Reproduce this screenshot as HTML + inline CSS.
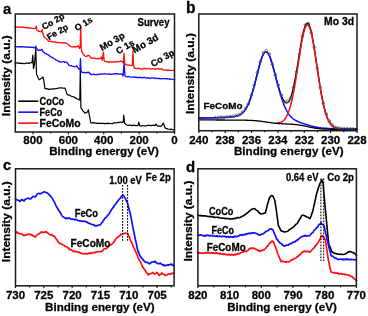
<!DOCTYPE html>
<html><head><meta charset="utf-8"><style>html,body{margin:0;padding:0;background:#fff;width:368px;height:316px;overflow:hidden}</style></head>
<body><svg width="368" height="316" viewBox="0 0 368 316" style="display:block;will-change:transform" font-family='"Liberation Sans", sans-serif'><polyline points="15.00,62.90 15.90,62.86 16.80,62.82 17.70,63.25 18.60,62.92 19.50,63.33 20.40,63.29 21.30,63.15 22.20,63.55 23.10,63.30 24.00,63.70 25.00,63.54 26.00,63.17 27.00,63.08 28.00,63.20 29.00,63.37 30.00,62.76 31.00,62.72 32.00,62.80 32.80,55.20 33.50,68.50 34.50,64.00 35.80,48.50 36.50,74.20 37.40,76.16 38.30,78.25 39.20,79.80 40.13,79.25 41.07,78.53 42.00,78.00 43.00,77.00 44.00,82.00 44.90,88.40 45.92,88.95 46.94,88.52 47.96,89.31 48.98,89.13 50.00,89.50 50.91,89.11 51.82,88.96 52.73,88.96 53.64,89.18 54.55,88.59 55.45,88.74 56.36,88.64 57.27,88.32 58.18,88.31 59.09,87.83 60.00,88.00 61.00,87.73 62.00,87.87 63.00,88.25 64.00,88.11 65.00,88.20 66.05,91.17 67.10,94.40 68.08,94.84 69.07,95.13 70.05,95.41 71.03,96.14 72.02,96.46 73.00,96.70 73.96,96.98 74.92,97.67 75.88,98.10 76.84,98.80 77.80,99.00 78.80,99.66 79.80,100.00 80.30,69.00 80.90,107.00 81.30,108.60 82.20,109.63 83.10,111.29 84.00,111.86 84.90,113.30 86.20,112.59 87.50,112.00 88.40,109.80 89.30,115.00 90.80,122.80 91.72,123.03 92.64,122.66 93.56,122.94 94.48,122.68 95.40,123.17 96.32,123.29 97.24,123.20 98.16,123.46 99.08,123.12 100.00,123.30 100.91,123.45 101.82,123.40 102.73,123.41 103.64,123.34 104.55,123.63 105.45,123.72 106.36,123.41 107.27,123.56 108.18,123.16 109.09,123.62 110.00,123.50 111.00,123.49 112.00,123.61 113.00,123.38 114.00,122.88 115.00,122.84 116.00,122.80 116.93,122.85 117.86,122.32 118.79,122.56 119.71,122.28 120.64,122.17 121.57,122.06 122.50,122.30 123.30,121.80 123.80,115.10 124.50,123.00 125.80,124.20 127.00,124.99 128.20,125.40 129.18,125.14 130.16,125.22 131.14,125.32 132.12,125.66 133.10,125.11 134.08,125.36 135.06,125.43 136.04,125.67 137.02,125.62 138.00,125.40 138.80,122.10 139.60,125.50 140.50,125.90 141.42,126.12 142.34,125.68 143.26,125.75 144.18,125.68 145.09,126.01 146.01,126.03 146.93,125.44 147.85,125.42 148.77,125.43 149.69,125.40 150.61,125.55 151.52,125.59 152.44,125.33 153.36,125.12 154.28,125.37 155.20,125.40 156.00,124.20 157.60,126.20 158.62,126.03 159.65,126.10 160.67,126.29 161.70,125.90 163.30,123.00 165.00,127.80 166.07,128.37 167.13,128.68 168.20,129.10 169.22,129.28 170.25,129.42 171.28,129.09 172.30,129.50 173.40,129.88 174.50,129.70" fill="none" stroke="#000" stroke-width="1.2" stroke-linejoin="round" stroke-linecap="round"/>
<polyline points="15.00,46.50 15.91,46.76 16.82,46.89 17.73,46.90 18.64,46.68 19.55,46.75 20.45,46.60 21.36,47.04 22.27,46.70 23.18,46.77 24.09,46.93 25.00,47.20 25.99,47.01 26.98,47.19 27.97,47.04 28.96,47.05 29.95,47.21 30.94,47.22 31.93,47.45 32.92,47.27 33.91,47.91 34.90,47.70 35.80,46.20 36.50,48.50 38.20,50.40 39.13,50.35 40.07,49.89 41.00,50.00 42.00,49.20 42.80,51.50 43.85,52.23 44.90,53.30 45.85,53.67 46.80,54.15 47.75,54.46 48.70,55.20 49.72,56.10 50.74,56.87 51.76,57.16 52.78,57.83 53.80,58.50 54.90,59.01 56.00,60.10 57.10,60.35 58.20,61.06 59.30,61.70 60.20,61.60 61.10,62.06 62.00,61.90 62.92,61.70 63.84,61.65 64.76,62.34 65.68,62.08 66.60,62.10 67.80,63.50 69.00,65.40 70.00,65.70 71.00,65.60 72.00,66.20 73.20,66.35 74.40,66.80 75.60,66.60 76.80,65.80 77.80,67.70 78.80,69.10 80.00,69.30 80.45,58.60 81.00,70.50 82.00,72.30 83.00,72.56 84.00,72.38 85.00,72.58 86.00,72.80 86.90,72.33 87.80,72.52 88.70,72.10 89.80,73.32 90.90,74.50 91.81,74.67 92.72,74.32 93.63,74.22 94.54,74.60 95.45,74.69 96.36,74.57 97.27,74.50 98.18,74.48 99.09,74.40 100.00,74.20 100.91,73.99 101.82,74.18 102.73,74.04 103.64,73.80 104.55,73.78 105.45,73.94 106.36,73.90 107.27,74.19 108.18,74.36 109.09,73.98 110.00,74.00 110.92,74.30 111.83,74.33 112.75,74.30 113.66,73.87 114.58,73.77 115.49,73.76 116.41,73.73 117.32,73.73 118.24,74.02 119.15,74.20 120.07,74.15 120.98,73.89 121.90,73.90 123.00,76.00 124.10,63.30 124.90,75.50 126.00,76.60 126.93,76.77 127.87,76.93 128.80,76.49 129.73,76.95 130.67,77.19 131.60,77.16 132.53,77.20 133.47,77.06 134.40,76.91 135.33,77.40 136.27,77.14 137.20,77.53 138.13,77.71 139.07,77.37 140.00,77.50 140.91,77.48 141.82,77.90 142.73,77.79 143.64,77.45 144.55,77.47 145.45,77.53 146.36,78.10 147.27,78.08 148.18,77.66 149.09,78.18 150.00,78.34 150.91,78.16 151.82,77.99 152.73,78.17 153.64,77.92 154.55,77.89 155.45,78.60 156.36,78.42 157.27,78.38 158.18,78.71 159.09,78.41 160.00,78.50 160.91,78.82 161.81,78.84 162.72,78.47 163.62,78.55 164.53,78.64 165.44,78.66 166.34,78.95 167.25,78.78 168.16,78.95 169.06,78.80 169.97,79.41 170.88,79.07 171.78,79.20 172.69,79.35 173.59,79.63 174.50,79.40" fill="none" stroke="#1010ff" stroke-width="1.35" stroke-linejoin="round" stroke-linecap="round"/>
<polyline points="15.00,26.80 16.00,26.82 17.00,27.25 18.00,27.04 19.00,27.14 20.00,27.20 21.00,27.30 22.00,27.02 23.00,27.40 24.00,27.30 25.00,27.60 26.00,27.33 27.00,27.97 28.00,27.61 29.00,27.90 30.00,28.00 31.00,28.33 32.00,28.39 33.00,28.40 34.00,28.70 35.50,28.30 36.30,26.20 36.90,30.50 38.00,31.00 39.17,31.28 40.33,31.57 41.50,31.80 42.30,29.50 43.00,34.00 44.00,36.70 45.00,37.80 46.00,38.50 47.00,39.19 48.00,40.48 49.00,41.40 50.00,41.32 51.00,41.44 52.00,41.89 53.00,41.81 54.00,41.94 55.00,42.00 56.00,42.30 57.00,42.53 58.00,42.32 59.00,42.56 60.00,42.60 61.00,42.68 62.00,42.77 63.00,42.97 64.00,42.89 65.00,43.00 66.00,43.27 67.00,43.50 68.00,44.23 69.00,45.00 70.00,46.16 71.00,46.70 72.00,46.81 73.00,46.90 74.00,46.60 75.00,46.98 76.00,46.57 77.00,46.80 78.30,45.80 79.50,48.50 80.20,47.00 80.70,26.80 81.20,47.00 81.80,51.80 82.90,53.44 84.00,55.00 85.00,56.01 86.00,56.40 86.90,56.30 87.80,55.48 88.70,55.40 89.60,56.07 90.50,57.23 91.40,58.20 92.37,57.96 93.33,58.13 94.30,58.07 95.27,58.54 96.23,58.68 97.20,58.81 98.17,58.35 99.13,58.80 100.10,58.70 101.20,57.00 102.30,60.30 103.40,52.20 104.20,60.50 105.00,61.40 105.90,61.71 106.80,61.55 107.70,62.00 108.61,62.24 109.53,62.28 110.44,61.73 111.35,62.22 112.26,61.80 113.17,61.84 114.09,62.17 115.00,61.80 115.99,61.98 116.97,61.45 117.96,61.58 118.94,61.58 119.93,61.40 120.91,61.24 121.90,61.40 123.30,63.00 124.00,53.30 124.70,63.50 126.00,64.90 126.90,64.89 127.80,65.29 128.70,64.91 129.60,65.40 130.50,65.44 131.40,65.60 132.40,65.00 132.90,50.90 133.50,65.50 134.50,68.40 135.42,68.10 136.33,68.35 137.25,68.59 138.17,68.54 139.08,68.26 140.00,68.60 140.91,68.96 141.82,68.84 142.73,68.98 143.64,68.40 144.55,68.53 145.45,68.39 146.36,68.92 147.27,68.58 148.18,68.50 149.09,68.73 150.00,68.80 150.92,69.10 151.83,69.06 152.75,68.68 153.67,68.62 154.58,69.18 155.50,68.95 156.42,69.06 157.33,68.65 158.25,68.64 159.17,69.10 160.08,68.93 161.00,69.00 161.94,68.94 162.88,69.79 163.82,69.81 164.76,70.17 165.70,70.20 166.77,69.96 167.85,70.55 168.93,70.05 170.00,70.40 170.90,70.67 171.80,70.41 172.70,70.35 173.60,70.52 174.50,70.50" fill="none" stroke="#ff1010" stroke-width="1.35" stroke-linejoin="round" stroke-linecap="round"/>
<rect x="15.3" y="14.0" width="159.2" height="118.0" fill="none" stroke="#1a1a1a" stroke-width="1.5"/>
<line x1="32.99" y1="132.0" x2="32.99" y2="134.2" stroke="#1a1a1a" stroke-width="1.2"/>
<line x1="68.37" y1="132.0" x2="68.37" y2="134.2" stroke="#1a1a1a" stroke-width="1.2"/>
<line x1="103.74" y1="132.0" x2="103.74" y2="134.2" stroke="#1a1a1a" stroke-width="1.2"/>
<line x1="139.12" y1="132.0" x2="139.12" y2="134.2" stroke="#1a1a1a" stroke-width="1.2"/>
<line x1="174.50" y1="132.0" x2="174.50" y2="134.2" stroke="#1a1a1a" stroke-width="1.2"/>
<line x1="50.68" y1="132.0" x2="50.68" y2="133.6" stroke="#1a1a1a" stroke-width="1.2"/>
<line x1="86.06" y1="132.0" x2="86.06" y2="133.6" stroke="#1a1a1a" stroke-width="1.2"/>
<line x1="121.43" y1="132.0" x2="121.43" y2="133.6" stroke="#1a1a1a" stroke-width="1.2"/>
<line x1="156.81" y1="132.0" x2="156.81" y2="133.6" stroke="#1a1a1a" stroke-width="1.2"/>
<text x="32.99" y="144.3" font-size="11.1" font-weight="bold" text-anchor="middle" fill="#000" stroke="#000" stroke-width="0.28" textLength="19.200000000000003" lengthAdjust="spacingAndGlyphs">800</text>
<text x="68.37" y="144.3" font-size="11.1" font-weight="bold" text-anchor="middle" fill="#000" stroke="#000" stroke-width="0.28" textLength="19.200000000000003" lengthAdjust="spacingAndGlyphs">600</text>
<text x="103.74" y="144.3" font-size="11.1" font-weight="bold" text-anchor="middle" fill="#000" stroke="#000" stroke-width="0.28" textLength="19.200000000000003" lengthAdjust="spacingAndGlyphs">400</text>
<text x="139.12" y="144.3" font-size="11.1" font-weight="bold" text-anchor="middle" fill="#000" stroke="#000" stroke-width="0.28" textLength="19.200000000000003" lengthAdjust="spacingAndGlyphs">200</text>
<text x="174.50" y="144.3" font-size="11.1" font-weight="bold" text-anchor="middle" fill="#000" stroke="#000" stroke-width="0.28" textLength="6.4" lengthAdjust="spacingAndGlyphs">0</text>
<text x="104" y="154.9" font-size="11.6" font-weight="bold" text-anchor="middle" fill="#000" stroke="#000" stroke-width="0.28" textLength="109.5" lengthAdjust="spacingAndGlyphs">Binding energy (eV)</text>
<text x="3.1" y="14.2" font-size="14.8" font-weight="bold" text-anchor="start" fill="#000" stroke="#000" stroke-width="0.28">a</text>
<text x="10.4" y="75.7" font-size="11" font-weight="bold" text-anchor="middle" fill="#000" stroke="#000" stroke-width="0.28" textLength="81" lengthAdjust="spacingAndGlyphs" transform="rotate(-90 10.4 75.7)">Intensity (a.u.)</text>
<text x="169.5" y="25.7" font-size="10.0" font-weight="bold" text-anchor="end" fill="#000" stroke="#000" stroke-width="0.28" textLength="32" lengthAdjust="spacingAndGlyphs">Survey</text>
<line x1="18.3" y1="101.2" x2="38.2" y2="101.2" stroke="#000" stroke-width="1.6"/>
<text x="39.6" y="104.8" font-size="10.2" font-weight="bold" text-anchor="start" fill="#000" stroke="#000" stroke-width="0.28" textLength="24.6" lengthAdjust="spacingAndGlyphs">CoCo</text>
<line x1="18.3" y1="112.15" x2="38.2" y2="112.15" stroke="#1010ff" stroke-width="1.6"/>
<text x="39.6" y="115.75" font-size="10.2" font-weight="bold" text-anchor="start" fill="#000" stroke="#000" stroke-width="0.28" textLength="22.6" lengthAdjust="spacingAndGlyphs">FeCo</text>
<line x1="18.3" y1="123.1" x2="38.2" y2="123.1" stroke="#ff1010" stroke-width="1.6"/>
<text x="39.6" y="126.69999999999999" font-size="10.2" font-weight="bold" text-anchor="start" fill="#000" stroke="#000" stroke-width="0.28" textLength="41" lengthAdjust="spacingAndGlyphs">FeCoMo</text>
<text x="43.9" y="30.1" font-size="8.8" font-weight="bold" text-anchor="start" fill="#000" stroke="#000" stroke-width="0.28" transform="rotate(-30 43.9 30.1)">Co 2p</text>
<text x="48.9" y="40.3" font-size="8.8" font-weight="bold" text-anchor="start" fill="#000" stroke="#000" stroke-width="0.28" transform="rotate(-30 48.9 40.3)">Fe 2p</text>
<text x="76.8" y="31.2" font-size="8.8" font-weight="bold" text-anchor="start" fill="#000" stroke="#000" stroke-width="0.28" transform="rotate(-30 76.8 31.2)">O 1s</text>
<text x="101.9" y="51.0" font-size="9.4" font-weight="bold" text-anchor="start" fill="#000" stroke="#000" stroke-width="0.28" transform="rotate(-30 101.9 51.0)">Mo 3p</text>
<text x="118.3" y="54.4" font-size="9.2" font-weight="bold" text-anchor="start" fill="#000" stroke="#000" stroke-width="0.28" transform="rotate(-30 118.3 54.4)">C 1s</text>
<text x="134.6" y="53.4" font-size="9.8" font-weight="bold" text-anchor="start" fill="#000" stroke="#000" stroke-width="0.28" transform="rotate(-30 134.6 53.4)">Mo 3d</text>
<text x="153.0" y="67.2" font-size="9.2" font-weight="bold" text-anchor="start" fill="#000" stroke="#000" stroke-width="0.28" transform="rotate(-30 153.0 67.2)">Co 3p</text>
<polyline points="198.80,117.95 199.30,117.95 199.80,117.94 200.30,117.94 200.80,117.93 201.30,117.93 201.80,117.92 202.30,117.92 202.80,117.91 203.30,117.91 203.80,117.90 204.30,117.90 204.80,117.89 205.30,117.88 205.80,117.88 206.30,117.87 206.80,117.86 207.30,117.86 207.80,117.85 208.30,117.84 208.80,117.83 209.30,117.83 209.80,117.82 210.30,117.81 210.80,117.80 211.30,117.79 211.80,117.78 212.30,117.77 212.80,117.76 213.30,117.75 213.80,117.74 214.30,117.73 214.80,117.72 215.30,117.71 215.80,117.69 216.30,117.68 216.80,117.67 217.30,117.66 217.80,117.64 218.30,117.63 218.80,117.61 219.30,117.60 219.80,117.58 220.30,117.56 220.80,117.55 221.30,117.53 221.80,117.51 222.30,117.49 222.80,117.47 223.30,117.45 223.80,117.43 224.30,117.41 224.80,117.38 225.30,117.36 225.80,117.33 226.30,117.30 226.80,117.27 227.30,117.24 227.80,117.21 228.30,117.17 228.80,117.13 229.30,117.09 229.80,117.05 230.30,117.00 230.80,116.95 231.30,116.90 231.80,116.84 232.30,116.79 232.80,116.74 233.30,116.69 233.80,116.63 234.30,116.56 234.80,116.48 235.30,116.39 235.80,116.29 236.30,116.17 236.80,116.04 237.30,115.90 237.80,115.73 238.30,115.55 238.80,115.35 239.30,115.12 239.80,114.86 240.30,114.58 240.80,114.27 241.30,113.92 241.80,113.53 242.30,113.11 242.80,112.65 243.30,112.14 243.80,111.58 244.30,110.98 244.80,110.32 245.30,109.60 245.80,108.83 246.30,107.99 246.80,107.10 247.30,106.13 247.80,105.10 248.30,104.01 248.80,102.84 249.30,101.60 249.80,100.29 250.30,98.91 250.80,97.46 251.30,95.94 251.80,94.35 252.30,92.70 252.80,90.99 253.30,89.23 253.80,87.41 254.30,85.54 254.80,83.64 255.30,81.70 255.80,79.73 256.30,77.75 256.80,75.76 257.30,73.77 257.80,71.79 258.30,69.84 258.80,67.92 259.30,66.05 259.80,64.23 260.30,62.50 260.80,60.84 261.30,59.29 261.80,57.85 262.30,56.53 262.80,55.33 263.30,54.29 263.80,53.41 264.30,52.70 264.80,52.18 265.30,51.84 265.80,51.70 266.30,51.75 266.80,51.97 267.30,52.37 267.80,52.93 268.30,53.66 268.80,54.54 269.30,55.57 269.80,56.73 270.30,58.01 270.80,59.42 271.30,60.92 271.80,62.52 272.30,64.19 272.80,65.93 273.30,67.73 273.80,69.57 274.30,71.43 274.80,73.33 275.30,75.23 275.80,77.13 276.30,79.02 276.80,80.89 277.30,82.73 277.80,84.54 278.30,86.30 278.80,88.01 279.30,89.66 279.80,91.24 280.30,92.75 280.80,94.18 281.30,95.52 281.80,96.77 282.30,97.92 282.80,98.96 283.30,99.89 283.80,100.70 284.30,101.40 284.80,101.96 285.30,102.39 285.80,102.69 286.30,102.84 286.80,102.84 287.30,102.70 287.80,102.40 288.30,101.93 288.80,101.31 289.30,100.52 289.80,99.56 290.30,98.44 290.80,97.14 291.30,95.68 291.80,94.05 292.30,92.25 292.80,90.29 293.30,88.18 293.80,85.91 294.30,83.49 294.80,80.95 295.30,78.28 295.80,75.49 296.30,72.61 296.80,69.64 297.30,66.60 297.80,63.52 298.30,60.40 298.80,57.27 299.30,54.15 299.80,51.07 300.30,48.03 300.80,45.08 301.30,42.22 301.80,39.49 302.30,36.91 302.80,34.49 303.30,32.26 303.80,30.23 304.30,28.43 304.80,26.88 305.30,25.58 305.80,24.55 306.30,23.81 306.80,23.35 307.30,23.18 307.80,23.31 308.30,23.73 308.80,24.43 309.30,25.42 309.80,26.68 310.30,28.21 310.80,30.00 311.30,32.02 311.80,34.27 312.30,36.72 312.80,39.36 313.30,42.17 313.80,45.13 314.30,48.22 314.80,51.41 315.30,54.68 315.80,58.01 316.30,61.39 316.80,64.78 317.30,68.18 317.80,71.55 318.30,74.89 318.80,78.18 319.30,81.40 319.80,84.55 320.30,87.59 320.80,90.54 321.30,93.38 321.80,96.09 322.30,98.68 322.80,101.15 323.30,103.48 323.80,105.68 324.30,107.75 324.80,109.68 325.30,111.49 325.80,113.16 326.30,114.72 326.80,116.15 327.30,117.46 327.80,118.67 328.30,119.77 328.80,120.78 329.30,121.68 329.80,122.51 330.30,123.25 330.80,123.91 331.30,124.51 331.80,125.04 332.30,125.52 332.80,125.94 333.30,126.31 333.80,126.64 334.30,126.92 334.80,127.18 335.30,127.40 335.80,127.59 336.30,127.76 336.80,127.91 337.30,128.04 337.80,128.15 338.30,128.24 338.80,128.32 339.30,128.39 339.80,128.45 340.30,128.51 340.80,128.55 341.30,128.59 341.80,128.63 342.30,128.66 342.80,128.68 343.30,128.70 343.80,128.72 344.30,128.74 344.80,128.76 345.30,128.77 345.80,128.78 346.30,128.79 346.80,128.80 347.30,128.81 347.80,128.82 348.30,128.83 348.80,128.84 349.30,128.84 349.80,128.85 350.30,128.86 350.80,128.86 351.30,128.87 351.80,128.87 352.30,128.88 352.80,128.88 353.30,128.89 353.80,128.89 354.30,128.90 354.80,128.90 355.30,128.91 355.80,128.91 356.30,128.92 356.80,128.92" fill="none" stroke="#000" stroke-width="1.4" stroke-linejoin="round" stroke-linecap="round"/>
<polyline points="198.80,117.95 199.30,117.95 199.80,117.94 200.30,117.94 200.80,117.93 201.30,117.93 201.80,117.92 202.30,117.92 202.80,117.91 203.30,117.91 203.80,117.90 204.30,117.90 204.80,117.89 205.30,117.88 205.80,117.88 206.30,117.87 206.80,117.86 207.30,117.86 207.80,117.85 208.30,117.84 208.80,117.83 209.30,117.83 209.80,117.82 210.30,117.81 210.80,117.80 211.30,117.79 211.80,117.78 212.30,117.77 212.80,117.76 213.30,117.75 213.80,117.74 214.30,117.73 214.80,117.72 215.30,117.71 215.80,117.69 216.30,117.68 216.80,117.67 217.30,117.66 217.80,117.64 218.30,117.63 218.80,117.61 219.30,117.60 219.80,117.58 220.30,117.56 220.80,117.55 221.30,117.53 221.80,117.51 222.30,117.49 222.80,117.47 223.30,117.45 223.80,117.43 224.30,117.41 224.80,117.38 225.30,117.36 225.80,117.33 226.30,117.30 226.80,117.27 227.30,117.24 227.80,117.21 228.30,117.17 228.80,117.13 229.30,117.09 229.80,117.05 230.30,117.00 230.80,116.95 231.30,116.90 231.80,116.84 232.30,116.79 232.80,116.74 233.30,116.69 233.80,116.63 234.30,116.56 234.80,116.48 235.30,116.39 235.80,116.29 236.30,116.17 236.80,116.04 237.30,115.90 237.80,115.73 238.30,115.55 238.80,115.35 239.30,115.12 239.80,114.86 240.30,114.58 240.80,114.27 241.30,113.92 241.80,113.53 242.30,113.11 242.80,112.65 243.30,112.14 243.80,111.58 244.30,110.98 244.80,110.32 245.30,109.60 245.80,108.83 246.30,107.99 246.80,107.10 247.30,106.13 247.80,105.10 248.30,104.01 248.80,102.84 249.30,101.60 249.80,100.29 250.30,98.91 250.80,97.46 251.30,95.94 251.80,94.35 252.30,92.70 252.80,90.99 253.30,89.23 253.80,87.41 254.30,85.54 254.80,83.64 255.30,81.70 255.80,79.73 256.30,77.75 256.80,75.76 257.30,73.77 257.80,71.79 258.30,69.84 258.80,67.92 259.30,66.05 259.80,64.23 260.30,62.50 260.80,60.84 261.30,59.29 261.80,57.85 262.30,56.53 262.80,55.33 263.30,54.29 263.80,53.41 264.30,52.71 264.80,52.18 265.30,51.85 265.80,51.70 266.30,51.75 266.80,51.98 267.30,52.38 267.80,52.94 268.30,53.67 268.80,54.55 269.30,55.58 269.80,56.75 270.30,58.04 270.80,59.45 271.30,60.97 271.80,62.57 272.30,64.26 272.80,66.02 273.30,67.83 273.80,69.69 274.30,71.59 274.80,73.51 275.30,75.45 275.80,77.40 276.30,79.34 276.80,81.28 277.30,83.20 277.80,85.10 278.30,86.97 278.80,88.80 279.30,90.59 279.80,92.34 280.30,94.04 280.80,95.69 281.30,97.29 281.80,98.82 282.30,100.30 282.80,101.72 283.30,103.08 283.80,104.38 284.30,105.62 284.80,106.79 285.30,107.91 285.80,108.96 286.30,109.96 286.80,110.90 287.30,111.79 287.80,112.62 288.30,113.40 288.80,114.13 289.30,114.81 289.80,115.45 290.30,116.05 290.80,116.60 291.30,117.12 291.80,117.61 292.30,118.06 292.80,118.48 293.30,118.87 293.80,119.24 294.30,119.58 294.80,119.90 295.30,120.20 295.80,120.49 296.30,120.75 296.80,121.01 297.30,121.25 297.80,121.48 298.30,121.70 298.80,121.91 299.30,122.11 299.80,122.30 300.30,122.49 300.80,122.68 301.30,122.86 301.80,123.03 302.30,123.21 302.80,123.38 303.30,123.55 303.80,123.71 304.30,123.88 304.80,124.04 305.30,124.20 305.80,124.36 306.30,124.52 306.80,124.67 307.30,124.83 307.80,124.98 308.30,125.13 308.80,125.28 309.30,125.43 309.80,125.57 310.30,125.71 310.80,125.85 311.30,125.98 311.80,126.12 312.30,126.24 312.80,126.37 313.30,126.49 313.80,126.61 314.30,126.72 314.80,126.83 315.30,126.94 315.80,127.04 316.30,127.14 316.80,127.23 317.30,127.32 317.80,127.40 318.30,127.49 318.80,127.56 319.30,127.64 319.80,127.70 320.30,127.77 320.80,127.83 321.30,127.89 321.80,127.94 322.30,128.00 322.80,128.04 323.30,128.09 323.80,128.13 324.30,128.17 324.80,128.21 325.30,128.24 325.80,128.28 326.30,128.31 326.80,128.33 327.30,128.36 327.80,128.39 328.30,128.41 328.80,128.43 329.30,128.45 329.80,128.47 330.30,128.49 330.80,128.51 331.30,128.52 331.80,128.54 332.30,128.55 332.80,128.57 333.30,128.58 333.80,128.59 334.30,128.61 334.80,128.62 335.30,128.63 335.80,128.64 336.30,128.65 336.80,128.66 337.30,128.67 337.80,128.68 338.30,128.69 338.80,128.70 339.30,128.71 339.80,128.72 340.30,128.72 340.80,128.73 341.30,128.74 341.80,128.75 342.30,128.76 342.80,128.76 343.30,128.77 343.80,128.78 344.30,128.78 344.80,128.79 345.30,128.80 345.80,128.80 346.30,128.81 346.80,128.82 347.30,128.82 347.80,128.83 348.30,128.83 348.80,128.84 349.30,128.85 349.80,128.85 350.30,128.86 350.80,128.86 351.30,128.87 351.80,128.87 352.30,128.88 352.80,128.88 353.30,128.89 353.80,128.89 354.30,128.90 354.80,128.90 355.30,128.91 355.80,128.91 356.30,128.92 356.80,128.92" fill="none" stroke="#1010ff" stroke-width="1.5" stroke-linejoin="round" stroke-linecap="round"/>
<polyline points="276.80,123.00 277.30,122.96 277.80,122.92 278.30,122.85 278.80,122.77 279.30,122.67 279.80,122.54 280.30,122.38 280.80,122.19 281.30,121.97 281.80,121.71 282.30,121.40 282.80,121.05 283.30,120.65 283.80,120.19 284.30,119.67 284.80,119.09 285.30,118.43 285.80,117.69 286.30,116.87 286.80,115.95 287.30,114.94 287.80,113.83 288.30,112.61 288.80,111.28 289.30,109.83 289.80,108.26 290.30,106.57 290.80,104.75 291.30,102.79 291.80,100.71 292.30,98.49 292.80,96.14 293.30,93.67 293.80,91.07 294.30,88.36 294.80,85.54 295.30,82.61 295.80,79.59 296.30,76.49 296.80,73.32 297.30,70.11 297.80,66.85 298.30,63.58 298.80,60.31 299.30,57.06 299.80,53.86 300.30,50.71 300.80,47.66 301.30,44.71 301.80,41.89 302.30,39.22 302.80,36.72 303.30,34.42 303.80,32.33 304.30,30.47 304.80,28.86 305.30,27.51 305.80,26.43 306.30,25.63 306.80,25.12 307.30,24.91 307.80,25.00 308.30,25.38 308.80,26.04 309.30,27.00 309.80,28.23 310.30,29.72 310.80,31.47 311.30,33.46 311.80,35.68 312.30,38.11 312.80,40.72 313.30,43.50 313.80,46.43 314.30,49.49 314.80,52.66 315.30,55.91 315.80,59.22 316.30,62.57 316.80,65.94 317.30,69.31 317.80,72.67 318.30,75.99 318.80,79.26 319.30,82.46 319.80,85.58 320.30,88.62 320.80,91.54 321.30,94.36 321.80,97.06 322.30,99.64 322.80,102.09 323.30,104.40 323.80,106.59 324.30,108.64 324.80,110.56 325.30,112.35 325.80,114.01 326.30,115.55 326.80,116.97 327.30,118.27 327.80,119.47 328.30,120.56 328.80,121.55 329.30,122.45 329.80,123.26 330.30,123.99 330.80,124.64 331.30,125.23 331.80,125.75 332.30,126.21 332.80,126.62 333.30,126.98 333.80,127.30 334.30,127.58 334.80,127.83 335.30,128.04 335.80,128.22 336.30,128.38 336.80,128.52 337.30,128.64 337.80,128.74 338.30,128.83 338.80,128.90" fill="none" stroke="#ff1010" stroke-width="1.5" stroke-linejoin="round" stroke-linecap="round"/>
<polyline points="198.80,119.90 199.30,119.90 199.80,119.90 200.30,119.91 200.80,119.91 201.30,119.91 201.80,119.91 202.30,119.91 202.80,119.92 203.30,119.92 203.80,119.92 204.30,119.92 204.80,119.93 205.30,119.93 205.80,119.93 206.30,119.93 206.80,119.93 207.30,119.94 207.80,119.94 208.30,119.94 208.80,119.94 209.30,119.95 209.80,119.95 210.30,119.95 210.80,119.95 211.30,119.95 211.80,119.96 212.30,119.96 212.80,119.96 213.30,119.96 213.80,119.97 214.30,119.97 214.80,119.97 215.30,119.97 215.80,119.98 216.30,119.98 216.80,119.98 217.30,119.98 217.80,119.99 218.30,119.99 218.80,119.99 219.30,119.99 219.80,120.00 220.30,120.00 220.80,120.00 221.30,120.00 221.80,120.01 222.30,120.01 222.80,120.01 223.30,120.01 223.80,120.02 224.30,120.02 224.80,120.02 225.30,120.03 225.80,120.03 226.30,120.03 226.80,120.03 227.30,120.04 227.80,120.04 228.30,120.04 228.80,120.05 229.30,120.05 229.80,120.05 230.30,120.06 230.80,120.06 231.30,120.06 231.80,120.07 232.30,120.07 232.80,120.07 233.30,120.08 233.80,120.08 234.30,120.08 234.80,120.09 235.30,120.09 235.80,120.09 236.30,120.10 236.80,120.10 237.30,120.11 237.80,120.11 238.30,120.12 238.80,120.12 239.30,120.13 239.80,120.13 240.30,120.14 240.80,120.14 241.30,120.15 241.80,120.16 242.30,120.16 242.80,120.17 243.30,120.18 243.80,120.19 244.30,120.20 244.80,120.21 245.30,120.22 245.80,120.23 246.30,120.24 246.80,120.25 247.30,120.27 247.80,120.28 248.30,120.30 248.80,120.32 249.30,120.33 249.80,120.35 250.30,120.38 250.80,120.40 251.30,120.42 251.80,120.45 252.30,120.48 252.80,120.51 253.30,120.54 253.80,120.57 254.30,120.61 254.80,120.64 255.30,120.68 255.80,120.73 256.30,120.77 256.80,120.82 257.30,120.86 257.80,120.91 258.30,120.97 258.80,121.02 259.30,121.08 259.80,121.14 260.30,121.20 260.80,121.26 261.30,121.32 261.80,121.39 262.30,121.46 262.80,121.53 263.30,121.60 263.80,121.67 264.30,121.74 264.80,121.82 265.30,121.89 265.80,121.96 266.30,122.04 266.80,122.11 267.30,122.19 267.80,122.26 268.30,122.34 268.80,122.41 269.30,122.48 269.80,122.55 270.30,122.62 270.80,122.69 271.30,122.76 271.80,122.83 272.30,122.89 272.80,122.95 273.30,123.02 273.80,123.07 274.30,123.13 274.80,123.19 275.30,123.24 275.80,123.29 276.30,123.34 276.80,123.39 277.30,123.43 277.80,123.48 278.30,123.52 278.80,123.56 279.30,123.60 279.80,123.63 280.30,123.67 280.80,123.70 281.30,123.73 281.80,123.76 282.30,123.79 282.80,123.82 283.30,123.84 283.80,123.87 284.30,123.89 284.80,123.92 285.30,123.94 285.80,123.96 286.30,123.99 286.80,124.01 287.30,124.03 287.80,124.05 288.30,124.08 288.80,124.10 289.30,124.13 289.80,124.15 290.30,124.18 290.80,124.20 291.30,124.23 291.80,124.26 292.30,124.30 292.80,124.33 293.30,124.37 293.80,124.40 294.30,124.45 294.80,124.49 295.30,124.54 295.80,124.59 296.30,124.64 296.80,124.69 297.30,124.75 297.80,124.81 298.30,124.88 298.80,124.95 299.30,125.02 299.80,125.10 300.30,125.17 300.80,125.26 301.30,125.34 301.80,125.43 302.30,125.52 302.80,125.62 303.30,125.71 303.80,125.81 304.30,125.92 304.80,126.02 305.30,126.13 305.80,126.23 306.30,126.34 306.80,126.45 307.30,126.56 307.80,126.67 308.30,126.78 308.80,126.89 309.30,127.00 309.80,127.11 310.30,127.22 310.80,127.32 311.30,127.43 311.80,127.53 312.30,127.63 312.80,127.72 313.30,127.82 313.80,127.91 314.30,128.00 314.80,128.08 315.30,128.16 315.80,128.24 316.30,128.32 316.80,128.39 317.30,128.46 317.80,128.52 318.30,128.58 318.80,128.64 319.30,128.69 319.80,128.74 320.30,128.79 320.80,128.83 321.30,128.88 321.80,128.91 322.30,128.95 322.80,128.98 323.30,129.01 323.80,129.04 324.30,129.06 324.80,129.09 325.30,129.11 325.80,129.12 326.30,129.14 326.80,129.16 327.30,129.17 327.80,129.18 328.30,129.19 328.80,129.20 329.30,129.21 329.80,129.22 330.30,129.23 330.80,129.24 331.30,129.24 331.80,129.25 332.30,129.25 332.80,129.25 333.30,129.26 333.80,129.26 334.30,129.26 334.80,129.27 335.30,129.27 335.80,129.27 336.30,129.27 336.80,129.27 337.30,129.28 337.80,129.28 338.30,129.28 338.80,129.28 339.30,129.28 339.80,129.28 340.30,129.28 340.80,129.28 341.30,129.28 341.80,129.28 342.30,129.29 342.80,129.29 343.30,129.29 343.80,129.29 344.30,129.29 344.80,129.29 345.30,129.29 345.80,129.29 346.30,129.29 346.80,129.29 347.30,129.29 347.80,129.29 348.30,129.29 348.80,129.29 349.30,129.29 349.80,129.29 350.30,129.29 350.80,129.29 351.30,129.29 351.80,129.30 352.30,129.30 352.80,129.30 353.30,129.30 353.80,129.30 354.30,129.30 354.80,129.30 355.30,129.30 355.80,129.30 356.30,129.30 356.80,129.30" fill="none" stroke="#000" stroke-width="1.3" stroke-linejoin="round" stroke-linecap="round"/>
<circle cx="215.30" cy="117.83" r="1.3" fill="none" stroke="#5a5a5a" stroke-width="0.75"/><circle cx="218.30" cy="117.33" r="1.3" fill="none" stroke="#5a5a5a" stroke-width="0.75"/><circle cx="221.30" cy="117.12" r="1.3" fill="none" stroke="#5a5a5a" stroke-width="0.75"/><circle cx="224.30" cy="117.26" r="1.3" fill="none" stroke="#5a5a5a" stroke-width="0.75"/><circle cx="227.30" cy="116.87" r="1.3" fill="none" stroke="#5a5a5a" stroke-width="0.75"/><circle cx="230.30" cy="116.49" r="1.3" fill="none" stroke="#5a5a5a" stroke-width="0.75"/><circle cx="233.30" cy="116.16" r="1.3" fill="none" stroke="#5a5a5a" stroke-width="0.75"/><circle cx="236.30" cy="115.44" r="1.3" fill="none" stroke="#5a5a5a" stroke-width="0.75"/><circle cx="239.30" cy="114.39" r="1.3" fill="none" stroke="#5a5a5a" stroke-width="0.75"/><circle cx="242.30" cy="112.31" r="1.3" fill="none" stroke="#5a5a5a" stroke-width="0.75"/><circle cx="245.30" cy="108.67" r="1.3" fill="none" stroke="#5a5a5a" stroke-width="0.75"/><circle cx="248.30" cy="104.08" r="1.3" fill="none" stroke="#5a5a5a" stroke-width="0.75"/><circle cx="251.30" cy="94.98" r="1.3" fill="none" stroke="#5a5a5a" stroke-width="0.75"/><circle cx="254.30" cy="85.04" r="1.3" fill="none" stroke="#5a5a5a" stroke-width="0.75"/><circle cx="257.30" cy="72.56" r="1.3" fill="none" stroke="#5a5a5a" stroke-width="0.75"/><circle cx="260.30" cy="61.66" r="1.3" fill="none" stroke="#5a5a5a" stroke-width="0.75"/><circle cx="263.30" cy="52.73" r="1.3" fill="none" stroke="#5a5a5a" stroke-width="0.75"/><circle cx="266.30" cy="50.70" r="1.3" fill="none" stroke="#5a5a5a" stroke-width="0.75"/><circle cx="269.30" cy="54.00" r="1.3" fill="none" stroke="#5a5a5a" stroke-width="0.75"/><circle cx="272.30" cy="64.20" r="1.3" fill="none" stroke="#5a5a5a" stroke-width="0.75"/><circle cx="275.30" cy="74.84" r="1.3" fill="none" stroke="#5a5a5a" stroke-width="0.75"/><circle cx="278.30" cy="85.12" r="1.3" fill="none" stroke="#5a5a5a" stroke-width="0.75"/><circle cx="281.30" cy="94.97" r="1.3" fill="none" stroke="#5a5a5a" stroke-width="0.75"/><circle cx="284.30" cy="101.85" r="1.3" fill="none" stroke="#5a5a5a" stroke-width="0.75"/><circle cx="287.30" cy="101.33" r="1.3" fill="none" stroke="#5a5a5a" stroke-width="0.75"/><circle cx="290.30" cy="98.64" r="1.3" fill="none" stroke="#5a5a5a" stroke-width="0.75"/><circle cx="293.30" cy="87.53" r="1.3" fill="none" stroke="#5a5a5a" stroke-width="0.75"/><circle cx="296.30" cy="72.10" r="1.3" fill="none" stroke="#5a5a5a" stroke-width="0.75"/><circle cx="299.30" cy="54.39" r="1.3" fill="none" stroke="#5a5a5a" stroke-width="0.75"/><circle cx="302.30" cy="36.17" r="1.3" fill="none" stroke="#5a5a5a" stroke-width="0.75"/><circle cx="305.30" cy="25.10" r="1.3" fill="none" stroke="#5a5a5a" stroke-width="0.75"/><circle cx="308.30" cy="23.64" r="1.3" fill="none" stroke="#5a5a5a" stroke-width="0.75"/><circle cx="311.30" cy="32.58" r="1.3" fill="none" stroke="#5a5a5a" stroke-width="0.75"/><circle cx="314.30" cy="47.37" r="1.3" fill="none" stroke="#5a5a5a" stroke-width="0.75"/><circle cx="317.30" cy="68.41" r="1.3" fill="none" stroke="#5a5a5a" stroke-width="0.75"/><circle cx="320.30" cy="87.55" r="1.3" fill="none" stroke="#5a5a5a" stroke-width="0.75"/><circle cx="323.30" cy="103.28" r="1.3" fill="none" stroke="#5a5a5a" stroke-width="0.75"/><circle cx="326.30" cy="114.01" r="1.3" fill="none" stroke="#5a5a5a" stroke-width="0.75"/><circle cx="329.30" cy="120.90" r="1.3" fill="none" stroke="#5a5a5a" stroke-width="0.75"/><circle cx="332.30" cy="124.82" r="1.3" fill="none" stroke="#5a5a5a" stroke-width="0.75"/><circle cx="335.30" cy="127.09" r="1.3" fill="none" stroke="#5a5a5a" stroke-width="0.75"/><circle cx="338.30" cy="128.05" r="1.3" fill="none" stroke="#5a5a5a" stroke-width="0.75"/><circle cx="341.30" cy="128.59" r="1.3" fill="none" stroke="#5a5a5a" stroke-width="0.75"/><circle cx="344.30" cy="128.67" r="1.3" fill="none" stroke="#5a5a5a" stroke-width="0.75"/><circle cx="347.30" cy="128.74" r="1.3" fill="none" stroke="#5a5a5a" stroke-width="0.75"/><circle cx="350.30" cy="128.78" r="1.3" fill="none" stroke="#5a5a5a" stroke-width="0.75"/><circle cx="353.30" cy="128.90" r="1.3" fill="none" stroke="#5a5a5a" stroke-width="0.75"/>
<rect x="198.8" y="14.0" width="158.2" height="116.69999999999999" fill="none" stroke="#1a1a1a" stroke-width="1.5"/>
<line x1="198.80" y1="130.7" x2="198.80" y2="132.89999999999998" stroke="#1a1a1a" stroke-width="1.2"/>
<line x1="225.17" y1="130.7" x2="225.17" y2="132.89999999999998" stroke="#1a1a1a" stroke-width="1.2"/>
<line x1="251.53" y1="130.7" x2="251.53" y2="132.89999999999998" stroke="#1a1a1a" stroke-width="1.2"/>
<line x1="277.90" y1="130.7" x2="277.90" y2="132.89999999999998" stroke="#1a1a1a" stroke-width="1.2"/>
<line x1="304.27" y1="130.7" x2="304.27" y2="132.89999999999998" stroke="#1a1a1a" stroke-width="1.2"/>
<line x1="330.63" y1="130.7" x2="330.63" y2="132.89999999999998" stroke="#1a1a1a" stroke-width="1.2"/>
<line x1="357.00" y1="130.7" x2="357.00" y2="132.89999999999998" stroke="#1a1a1a" stroke-width="1.2"/>
<line x1="211.98" y1="130.7" x2="211.98" y2="132.29999999999998" stroke="#1a1a1a" stroke-width="1.2"/>
<line x1="238.35" y1="130.7" x2="238.35" y2="132.29999999999998" stroke="#1a1a1a" stroke-width="1.2"/>
<line x1="264.72" y1="130.7" x2="264.72" y2="132.29999999999998" stroke="#1a1a1a" stroke-width="1.2"/>
<line x1="291.08" y1="130.7" x2="291.08" y2="132.29999999999998" stroke="#1a1a1a" stroke-width="1.2"/>
<line x1="317.45" y1="130.7" x2="317.45" y2="132.29999999999998" stroke="#1a1a1a" stroke-width="1.2"/>
<line x1="343.82" y1="130.7" x2="343.82" y2="132.29999999999998" stroke="#1a1a1a" stroke-width="1.2"/>
<text x="198.80" y="144.3" font-size="11.1" font-weight="bold" text-anchor="middle" fill="#000" stroke="#000" stroke-width="0.28" textLength="19.200000000000003" lengthAdjust="spacingAndGlyphs">240</text>
<text x="225.17" y="144.3" font-size="11.1" font-weight="bold" text-anchor="middle" fill="#000" stroke="#000" stroke-width="0.28" textLength="19.200000000000003" lengthAdjust="spacingAndGlyphs">238</text>
<text x="251.53" y="144.3" font-size="11.1" font-weight="bold" text-anchor="middle" fill="#000" stroke="#000" stroke-width="0.28" textLength="19.200000000000003" lengthAdjust="spacingAndGlyphs">236</text>
<text x="277.90" y="144.3" font-size="11.1" font-weight="bold" text-anchor="middle" fill="#000" stroke="#000" stroke-width="0.28" textLength="19.200000000000003" lengthAdjust="spacingAndGlyphs">234</text>
<text x="304.27" y="144.3" font-size="11.1" font-weight="bold" text-anchor="middle" fill="#000" stroke="#000" stroke-width="0.28" textLength="19.200000000000003" lengthAdjust="spacingAndGlyphs">232</text>
<text x="330.63" y="144.3" font-size="11.1" font-weight="bold" text-anchor="middle" fill="#000" stroke="#000" stroke-width="0.28" textLength="19.200000000000003" lengthAdjust="spacingAndGlyphs">230</text>
<text x="357.00" y="144.3" font-size="11.1" font-weight="bold" text-anchor="middle" fill="#000" stroke="#000" stroke-width="0.28" textLength="19.200000000000003" lengthAdjust="spacingAndGlyphs">228</text>
<text x="288.75" y="154.9" font-size="11.6" font-weight="bold" text-anchor="middle" fill="#000" stroke="#000" stroke-width="0.28" textLength="109.5" lengthAdjust="spacingAndGlyphs">Binding energy (eV)</text>
<text x="186" y="13.4" font-size="15.6" font-weight="bold" text-anchor="start" fill="#000" stroke="#000" stroke-width="0.28">b</text>
<text x="194.3" y="73.6" font-size="11" font-weight="bold" text-anchor="middle" fill="#000" stroke="#000" stroke-width="0.28" textLength="81" lengthAdjust="spacingAndGlyphs" transform="rotate(-90 194.3 73.6)">Intensity (a.u.)</text>
<text x="354" y="25.1" font-size="10" font-weight="bold" text-anchor="end" fill="#000" stroke="#000" stroke-width="0.28" textLength="30" lengthAdjust="spacingAndGlyphs">Mo 3d</text>
<text x="203.5" y="109" font-size="9.3" font-weight="bold" text-anchor="start" fill="#000" stroke="#000" stroke-width="0.28" textLength="39" lengthAdjust="spacingAndGlyphs">FeCoMo</text>
<polyline points="15.50,198.70 16.38,199.67 17.26,200.01 18.14,200.14 19.02,200.66 19.90,201.50 20.95,200.27 22.00,199.50 23.00,200.21 24.00,201.00 25.00,199.62 26.00,199.00 27.10,198.54 28.20,198.20 29.10,198.34 30.00,199.00 30.75,198.83 31.50,198.17 32.25,197.03 33.00,196.30 34.00,196.37 35.00,197.00 35.90,196.35 36.80,194.46 37.70,193.50 38.47,193.51 39.23,193.28 40.00,194.00 40.90,193.37 41.80,192.97 42.70,192.50 43.60,192.00 44.40,191.84 45.20,192.34 46.00,192.50 46.88,192.61 47.75,193.54 48.62,194.00 49.50,195.10 50.40,196.19 51.30,197.00 52.20,198.17 53.10,199.90 54.00,201.46 54.90,203.16 55.80,205.32 56.70,207.00 57.53,208.28 58.35,209.78 59.17,210.92 60.00,212.00 60.87,213.74 61.73,215.42 62.60,216.50 63.40,216.91 64.20,217.38 65.00,218.10 65.83,218.68 66.67,217.81 67.50,218.50 68.33,218.46 69.17,217.85 70.00,218.40 70.80,218.95 71.60,219.19 72.40,219.08 73.20,219.38 74.00,219.30 74.78,219.81 75.57,219.24 76.35,219.83 77.14,219.98 77.92,220.51 78.71,220.65 79.49,220.84 80.28,220.75 81.06,221.26 81.85,221.19 82.63,221.37 83.42,221.03 84.20,221.50 85.03,221.27 85.86,221.67 86.69,222.20 87.51,222.21 88.34,223.30 89.17,223.28 90.00,223.50 90.80,223.97 91.60,224.30 92.40,224.68 93.20,224.80 94.00,224.60 94.80,225.80 95.60,225.80 96.57,225.87 97.53,225.40 98.50,225.20 99.27,224.97 100.03,224.84 100.80,224.40 101.60,222.77 102.40,222.36 103.20,220.68 104.00,219.80 104.78,218.43 105.56,217.74 106.34,217.35 107.12,215.88 107.90,215.30 108.68,214.36 109.45,213.42 110.22,211.69 111.00,210.50 111.80,209.19 112.60,208.12 113.40,207.16 114.20,206.07 115.00,204.60 115.75,203.83 116.50,202.96 117.25,201.44 118.00,201.00 118.77,199.63 119.53,198.76 120.30,198.32 121.07,196.85 121.83,196.16 122.60,195.10 123.40,195.53 124.20,196.55 125.00,198.00 125.80,199.35 126.60,201.39 127.40,202.80 128.33,206.54 129.27,210.06 130.20,213.40 131.13,217.94 132.07,222.95 133.00,227.70 133.83,231.76 134.67,235.86 135.50,240.00 136.30,243.25 137.10,247.77 137.90,251.00 138.77,252.50 139.63,255.19 140.50,256.50 141.47,258.31 142.43,258.64 143.40,260.50 144.20,260.91 145.00,261.77 145.80,262.39 146.60,262.27 147.40,262.53 148.20,262.92 149.00,263.70 149.79,263.85 150.57,262.70 151.36,262.76 152.14,261.93 152.93,262.01 153.71,262.14 154.50,261.30 155.28,261.42 156.05,262.70 156.82,262.88 157.60,263.40 158.40,263.83 159.20,263.62 160.00,263.10 160.80,263.40 161.60,264.44 162.40,264.58 163.20,264.68 164.00,265.80 164.78,265.15 165.57,265.59 166.35,265.45 167.13,265.18 167.92,264.90 168.70,265.20 169.47,264.70 170.23,264.33 171.00,264.20 171.75,264.97 172.50,264.45 173.25,265.68 174.00,265.80" fill="none" stroke="#1010ff" stroke-width="1.7" stroke-linejoin="round" stroke-linecap="round"/>
<polyline points="15.50,231.90 16.25,232.54 17.00,232.02 17.75,233.17 18.50,233.20 19.25,233.68 20.00,233.50 20.78,233.59 21.57,233.99 22.35,234.33 23.13,235.32 23.92,235.18 24.70,235.40 25.54,235.08 26.39,234.98 27.23,234.64 28.07,234.22 28.91,234.10 29.76,234.74 30.60,234.20 31.38,234.45 32.17,235.65 32.95,235.37 33.73,235.88 34.52,236.63 35.30,237.10 36.20,235.73 37.10,234.89 38.00,234.00 38.83,233.98 39.65,233.37 40.47,232.77 41.30,231.90 42.08,232.04 42.87,232.35 43.65,232.38 44.43,231.95 45.22,232.14 46.00,231.90 46.80,231.92 47.60,233.20 48.40,233.41 49.20,234.26 50.00,234.50 50.76,234.96 51.52,234.86 52.28,234.90 53.04,236.17 53.80,236.00 54.60,236.62 55.40,238.04 56.20,238.93 57.00,239.91 57.80,241.43 58.60,242.20 59.55,243.42 60.50,243.60 61.43,243.80 62.37,244.70 63.30,245.00 64.11,245.32 64.93,246.15 65.74,246.51 66.56,246.81 67.37,247.34 68.19,247.94 69.00,248.80 69.81,249.65 70.63,249.60 71.44,249.69 72.26,250.85 73.07,251.35 73.89,251.14 74.70,251.60 75.51,251.42 76.33,251.69 77.14,251.79 77.96,252.28 78.77,252.22 79.59,252.60 80.40,253.10 81.24,252.93 82.08,253.38 82.91,253.83 83.75,253.77 84.59,253.50 85.42,253.61 86.26,253.83 87.10,253.90 87.92,253.60 88.75,253.40 89.58,252.93 90.40,253.01 91.22,253.60 92.05,252.51 92.88,252.77 93.70,252.60 94.54,252.62 95.38,252.75 96.21,251.91 97.05,251.85 97.89,251.70 98.73,251.74 99.56,251.67 100.40,251.60 101.23,251.62 102.05,251.03 102.88,250.59 103.70,249.17 104.53,248.71 105.35,248.98 106.17,248.71 107.00,247.80 107.81,247.10 108.63,246.55 109.44,245.24 110.26,244.99 111.07,244.91 111.89,244.13 112.70,243.10 113.50,242.54 114.30,241.72 115.10,239.97 115.90,238.87 116.70,237.97 117.50,237.40 118.38,236.62 119.25,236.00 120.12,235.49 121.00,234.20 122.05,234.14 123.10,233.60 123.97,233.56 124.83,233.49 125.70,233.00 126.75,233.25 127.80,233.60 128.60,235.62 129.40,237.03 130.20,239.50 130.97,241.48 131.73,242.54 132.50,244.50 133.25,246.71 134.00,248.16 134.75,249.53 135.50,251.50 136.30,252.89 137.10,254.83 137.90,257.05 138.70,258.92 139.50,260.50 140.25,261.57 141.00,263.03 141.75,265.03 142.50,266.50 143.32,267.87 144.15,268.93 144.98,270.02 145.80,271.60 146.60,272.78 147.40,273.19 148.20,274.80 148.97,274.15 149.73,273.89 150.50,273.50 151.55,273.50 152.60,272.50 153.40,273.16 154.20,273.92 155.00,274.00 156.00,273.22 157.00,272.50 158.10,273.76 159.20,275.60 160.13,274.46 161.07,274.37 162.00,273.00 162.75,273.85 163.50,274.04 164.25,274.35 165.00,275.50 165.83,275.21 166.67,275.13 167.50,274.56 168.33,274.10 169.17,274.27 170.00,273.80 170.80,274.21 171.60,273.38 172.40,273.11 173.20,273.38 174.00,273.50" fill="none" stroke="#ff1010" stroke-width="1.7" stroke-linejoin="round" stroke-linecap="round"/>
<line x1="122.6" y1="185" x2="122.6" y2="242" stroke="#000" stroke-width="1.05" stroke-dasharray="1.8,1.2"/>
<line x1="127.6" y1="185" x2="127.6" y2="242" stroke="#000" stroke-width="1.05" stroke-dasharray="1.8,1.2"/>
<rect x="15.5" y="168.8" width="158.6" height="117.0" fill="none" stroke="#1a1a1a" stroke-width="1.5"/>
<line x1="15.50" y1="285.8" x2="15.50" y2="288.0" stroke="#1a1a1a" stroke-width="1.2"/>
<line x1="43.82" y1="285.8" x2="43.82" y2="288.0" stroke="#1a1a1a" stroke-width="1.2"/>
<line x1="72.14" y1="285.8" x2="72.14" y2="288.0" stroke="#1a1a1a" stroke-width="1.2"/>
<line x1="100.46" y1="285.8" x2="100.46" y2="288.0" stroke="#1a1a1a" stroke-width="1.2"/>
<line x1="128.79" y1="285.8" x2="128.79" y2="288.0" stroke="#1a1a1a" stroke-width="1.2"/>
<line x1="157.11" y1="285.8" x2="157.11" y2="288.0" stroke="#1a1a1a" stroke-width="1.2"/>
<line x1="29.66" y1="285.8" x2="29.66" y2="287.40000000000003" stroke="#1a1a1a" stroke-width="1.2"/>
<line x1="57.98" y1="285.8" x2="57.98" y2="287.40000000000003" stroke="#1a1a1a" stroke-width="1.2"/>
<line x1="86.30" y1="285.8" x2="86.30" y2="287.40000000000003" stroke="#1a1a1a" stroke-width="1.2"/>
<line x1="114.62" y1="285.8" x2="114.62" y2="287.40000000000003" stroke="#1a1a1a" stroke-width="1.2"/>
<line x1="142.95" y1="285.8" x2="142.95" y2="287.40000000000003" stroke="#1a1a1a" stroke-width="1.2"/>
<line x1="171.27" y1="285.8" x2="171.27" y2="287.40000000000003" stroke="#1a1a1a" stroke-width="1.2"/>
<text x="15.50" y="298.9" font-size="11.1" font-weight="bold" text-anchor="middle" fill="#000" stroke="#000" stroke-width="0.28" textLength="19.200000000000003" lengthAdjust="spacingAndGlyphs">730</text>
<text x="43.82" y="298.9" font-size="11.1" font-weight="bold" text-anchor="middle" fill="#000" stroke="#000" stroke-width="0.28" textLength="19.200000000000003" lengthAdjust="spacingAndGlyphs">725</text>
<text x="72.14" y="298.9" font-size="11.1" font-weight="bold" text-anchor="middle" fill="#000" stroke="#000" stroke-width="0.28" textLength="19.200000000000003" lengthAdjust="spacingAndGlyphs">720</text>
<text x="100.46" y="298.9" font-size="11.1" font-weight="bold" text-anchor="middle" fill="#000" stroke="#000" stroke-width="0.28" textLength="19.200000000000003" lengthAdjust="spacingAndGlyphs">715</text>
<text x="128.79" y="298.9" font-size="11.1" font-weight="bold" text-anchor="middle" fill="#000" stroke="#000" stroke-width="0.28" textLength="19.200000000000003" lengthAdjust="spacingAndGlyphs">710</text>
<text x="157.11" y="298.9" font-size="11.1" font-weight="bold" text-anchor="middle" fill="#000" stroke="#000" stroke-width="0.28" textLength="19.200000000000003" lengthAdjust="spacingAndGlyphs">705</text>
<text x="99.85" y="310.8" font-size="11.6" font-weight="bold" text-anchor="middle" fill="#000" stroke="#000" stroke-width="0.28" textLength="109.5" lengthAdjust="spacingAndGlyphs">Binding energy (eV)</text>
<text x="3.0" y="170.4" font-size="14.6" font-weight="bold" text-anchor="start" fill="#000" stroke="#000" stroke-width="0.28">c</text>
<text x="10.3" y="221.7" font-size="11" font-weight="bold" text-anchor="middle" fill="#000" stroke="#000" stroke-width="0.28" textLength="81" lengthAdjust="spacingAndGlyphs" transform="rotate(-90 10.3 221.7)">Intensity (a.u.)</text>
<text x="74.7" y="216.5" font-size="10" font-weight="bold" text-anchor="start" fill="#000" stroke="#000" stroke-width="0.28" textLength="23.3" lengthAdjust="spacingAndGlyphs">FeCo</text>
<text x="70.5" y="246.9" font-size="10" font-weight="bold" text-anchor="start" fill="#000" stroke="#000" stroke-width="0.28" textLength="40" lengthAdjust="spacingAndGlyphs">FeCoMo</text>
<text x="109.3" y="184.2" font-size="10.2" font-weight="bold" text-anchor="start" fill="#000" stroke="#000" stroke-width="0.28" textLength="32.5" lengthAdjust="spacingAndGlyphs">1.00 eV</text>
<text x="145.8" y="181" font-size="10.3" font-weight="bold" text-anchor="start" fill="#000" stroke="#000" stroke-width="0.28" textLength="25" lengthAdjust="spacingAndGlyphs">Fe 2p</text>
<polyline points="197.75,215.40 198.79,215.42 199.83,215.64 200.88,215.42 201.92,215.84 202.96,215.88 204.00,215.80 205.03,215.94 206.07,215.89 207.10,216.48 208.13,216.22 209.17,216.66 210.20,216.60 211.18,216.56 212.16,216.67 213.14,217.12 214.12,216.96 215.10,217.47 216.08,217.32 217.06,217.25 218.04,217.39 219.02,217.63 220.00,217.80 220.92,218.02 221.84,218.31 222.76,217.95 223.68,218.22 224.60,218.23 225.52,218.80 226.44,218.43 227.36,218.49 228.28,218.62 229.20,219.00 230.17,218.82 231.13,219.01 232.10,218.88 233.07,218.67 234.03,218.72 235.00,218.30 236.00,218.36 237.00,217.80 238.00,217.51 239.00,217.76 240.00,217.45 241.00,217.10 242.00,216.24 243.00,216.05 244.00,215.30 245.00,214.80 246.03,213.89 247.07,213.03 248.10,212.30 249.18,211.28 250.25,210.35 251.32,209.69 252.40,209.00 253.55,208.73 254.70,208.63 255.85,209.84 257.00,210.50 257.93,211.13 258.85,212.49 259.77,212.90 260.70,213.93 261.85,213.68 263.00,213.60 264.20,213.34 265.40,212.70 266.60,208.14 267.80,203.20 269.40,198.00 270.35,196.76 271.30,195.60 272.25,195.78 273.20,196.50 274.90,200.80 276.50,211.50 277.45,218.58 278.40,225.70 279.60,227.97 280.80,230.40 282.00,231.22 283.20,231.35 284.40,232.10 285.70,231.72 287.00,231.50 288.10,230.97 289.20,229.68 290.30,229.20 291.23,228.47 292.15,228.04 293.07,227.34 294.00,226.50 295.13,225.16 296.27,224.09 297.40,223.30 298.45,221.14 299.50,219.50 300.60,217.75 301.70,215.50 302.60,215.20 303.50,215.20 304.60,215.85 305.70,216.20 306.77,217.04 307.85,217.30 308.93,217.86 310.00,218.60 311.00,216.11 312.00,213.14 313.00,210.30 313.90,206.01 314.80,202.13 315.70,197.74 316.60,193.70 317.80,189.72 319.00,186.00 319.93,183.54 320.87,181.82 321.80,179.50 323.00,183.00 324.03,194.72 325.07,206.01 326.10,217.40 327.45,231.12 328.80,244.30 329.90,246.61 331.00,249.34 332.10,252.10 333.02,252.45 333.93,253.11 334.85,253.47 335.77,253.50 336.68,253.78 337.60,254.30 338.54,254.26 339.49,254.30 340.43,254.56 341.37,254.11 342.31,254.48 343.26,254.44 344.20,254.30 345.13,254.01 346.07,253.50 347.00,252.91 347.93,252.26 348.87,251.78 349.80,251.40 350.87,251.68 351.93,252.30 353.00,252.50 354.17,253.21 355.33,254.25 356.50,255.40" fill="none" stroke="#000" stroke-width="1.6" stroke-linejoin="round" stroke-linecap="round"/>
<polyline points="197.75,235.30 198.56,235.58 199.36,235.09 200.17,234.93 200.97,234.92 201.78,235.46 202.58,235.26 203.39,235.94 204.19,235.86 205.00,235.50 205.76,236.02 206.52,235.32 207.28,235.17 208.04,235.22 208.80,235.65 209.56,235.89 210.32,235.66 211.08,235.47 211.84,235.69 212.60,235.80 213.38,235.98 214.17,236.09 214.95,236.22 215.73,236.38 216.52,236.26 217.30,235.77 218.08,236.55 218.87,236.06 219.65,236.39 220.43,236.26 221.22,236.68 222.00,236.50 222.79,236.24 223.58,236.33 224.38,236.37 225.17,236.32 225.96,237.09 226.75,236.83 227.54,236.62 228.33,236.73 229.12,237.37 229.92,236.92 230.71,236.69 231.50,237.00 232.31,237.18 233.12,236.90 233.94,237.12 234.75,236.10 235.56,236.35 236.38,236.57 237.19,236.47 238.00,236.00 238.77,236.21 239.54,235.14 240.31,235.19 241.09,234.82 241.86,234.69 242.63,235.27 243.40,234.60 244.22,234.51 245.05,234.68 245.88,233.95 246.70,234.27 247.53,233.67 248.35,233.31 249.18,233.65 250.00,233.20 250.80,233.59 251.60,232.69 252.40,233.12 253.20,233.08 254.00,232.90 254.75,232.91 255.50,233.36 256.25,233.42 257.00,233.78 257.75,234.12 258.50,234.76 259.25,235.11 260.00,235.25 260.75,234.64 261.50,234.14 262.25,234.14 263.00,234.00 263.80,233.58 264.60,232.49 265.40,232.01 266.20,231.30 267.00,231.00 267.80,230.86 268.60,230.17 269.40,229.24 270.20,228.84 271.00,228.80 272.00,229.30 273.00,230.00 273.88,232.25 274.75,234.54 275.62,236.19 276.50,238.80 277.38,239.51 278.25,241.10 279.12,241.86 280.00,243.00 280.86,243.40 281.72,244.05 282.58,245.31 283.44,245.29 284.30,246.10 285.11,245.87 285.93,245.36 286.74,245.12 287.56,245.26 288.37,245.10 289.19,244.16 290.00,244.00 290.84,243.32 291.68,243.47 292.52,242.56 293.36,241.99 294.20,242.10 295.03,241.92 295.86,240.85 296.69,240.66 297.51,239.66 298.34,239.55 299.17,238.55 300.00,238.00 300.84,237.16 301.68,236.51 302.52,236.55 303.36,236.14 304.20,235.50 304.96,236.01 305.72,235.29 306.48,235.92 307.24,235.77 308.00,236.00 309.00,235.75 310.00,235.50 310.82,234.17 311.65,233.33 312.48,232.60 313.30,232.03 314.12,230.23 314.95,229.64 315.78,228.98 316.60,227.70 317.48,227.17 318.36,225.40 319.24,224.33 320.12,224.14 321.00,222.70 321.82,224.15 322.65,224.63 323.48,225.18 324.30,226.60 325.15,230.90 326.00,234.24 326.85,238.63 327.70,242.10 328.52,245.55 329.35,249.07 330.18,251.74 331.00,255.40 331.82,256.19 332.65,256.12 333.48,256.80 334.30,257.75 335.12,258.23 335.95,258.08 336.78,258.62 337.60,259.40 338.39,259.30 339.19,259.42 339.98,259.28 340.77,259.02 341.56,259.15 342.36,259.62 343.15,259.80 343.94,258.94 344.74,259.46 345.53,259.66 346.32,258.94 347.11,259.74 347.91,259.02 348.70,259.40 349.48,259.54 350.26,259.53 351.04,259.65 351.82,259.37 352.60,259.52 353.38,259.72 354.16,259.61 354.94,259.88 355.72,259.71 356.50,259.80" fill="none" stroke="#1010ff" stroke-width="1.7" stroke-linejoin="round" stroke-linecap="round"/>
<polyline points="197.75,253.20 198.52,253.12 199.29,252.69 200.06,253.27 200.83,253.12 201.60,252.85 202.38,253.36 203.15,253.36 203.92,253.02 204.69,252.73 205.46,253.01 206.23,252.62 207.00,253.00 207.79,252.64 208.58,252.96 209.38,252.64 210.17,253.00 210.96,253.09 211.75,252.63 212.55,253.24 213.34,252.71 214.13,253.37 214.92,253.43 215.72,253.18 216.51,252.74 217.30,253.20 218.07,253.30 218.84,253.28 219.61,253.95 220.38,253.24 221.15,254.06 221.92,254.30 222.69,254.13 223.46,254.31 224.23,253.79 225.00,254.20 225.81,254.75 226.62,254.32 227.43,254.85 228.24,254.87 229.05,254.18 229.85,254.87 230.66,255.08 231.47,254.27 232.28,254.62 233.09,255.09 233.90,254.90 234.66,254.35 235.43,254.87 236.19,254.04 236.95,254.37 237.71,253.48 238.47,253.63 239.24,253.83 240.00,253.20 240.77,252.65 241.53,252.45 242.30,252.44 243.07,252.00 243.83,251.46 244.60,251.35 245.37,251.07 246.13,251.59 246.90,250.90 247.68,250.45 248.45,250.05 249.22,248.69 250.00,248.40 250.80,248.64 251.60,247.94 252.40,248.31 253.20,248.38 254.00,248.20 254.75,248.43 255.50,249.32 256.25,249.37 257.00,249.77 257.75,250.44 258.50,250.04 259.25,251.30 260.00,251.18 260.83,250.94 261.67,250.34 262.50,250.39 263.33,249.49 264.17,249.85 265.00,249.00 265.83,248.08 266.67,246.86 267.50,246.26 268.33,244.94 269.17,243.68 270.00,243.00 271.05,242.24 272.10,241.00 273.05,241.55 274.00,243.00 274.83,245.62 275.67,247.35 276.50,249.90 277.25,251.99 278.00,254.28 278.75,255.84 279.50,257.86 280.25,259.46 281.00,261.60 281.77,261.14 282.54,261.21 283.31,261.37 284.08,261.88 284.85,261.73 285.62,261.85 286.39,262.28 287.16,261.55 287.93,261.69 288.70,262.00 289.48,261.71 290.26,260.64 291.04,260.18 291.82,260.09 292.60,259.41 293.38,259.22 294.16,258.64 294.94,258.56 295.72,258.13 296.50,257.60 297.27,256.64 298.04,256.40 298.81,255.59 299.58,254.59 300.35,254.74 301.12,253.38 301.89,252.63 302.66,251.92 303.43,251.80 304.20,251.00 305.03,251.53 305.86,251.60 306.69,251.37 307.51,251.39 308.34,251.30 309.17,252.09 310.00,252.10 310.77,251.27 311.54,250.17 312.31,249.58 313.08,248.48 313.85,248.09 314.62,246.99 315.39,245.62 316.16,245.38 316.93,243.63 317.70,243.20 318.58,241.69 319.46,240.03 320.34,238.32 321.22,236.60 322.10,235.50 322.93,236.88 323.75,237.21 324.57,238.85 325.40,239.90 326.37,246.97 327.33,252.81 328.30,259.80 329.20,263.57 330.10,268.04 331.00,272.00 331.88,272.23 332.76,272.58 333.64,272.97 334.52,272.55 335.40,273.10 336.20,273.01 337.00,273.10 337.80,272.95 338.60,273.89 339.40,273.88 340.20,273.92 341.00,273.31 341.80,274.24 342.60,274.25 343.40,274.07 344.20,274.20 344.98,274.66 345.76,274.59 346.54,274.59 347.32,274.69 348.10,275.03 348.88,275.06 349.66,275.58 350.44,276.21 351.22,276.38 352.00,276.40 352.75,277.48 353.50,278.08 354.25,278.37 355.00,279.39 355.75,280.00 356.50,280.80" fill="none" stroke="#ff1010" stroke-width="1.7" stroke-linejoin="round" stroke-linecap="round"/>
<line x1="320.9" y1="178.5" x2="320.9" y2="261" stroke="#000" stroke-width="1.05" stroke-dasharray="1.8,1.2"/>
<line x1="323.7" y1="178.5" x2="323.7" y2="261" stroke="#000" stroke-width="1.05" stroke-dasharray="1.8,1.2"/>
<rect x="197.9" y="168.8" width="158.49999999999997" height="117.0" fill="none" stroke="#1a1a1a" stroke-width="1.5"/>
<line x1="197.90" y1="285.8" x2="197.90" y2="288.0" stroke="#1a1a1a" stroke-width="1.2"/>
<line x1="229.60" y1="285.8" x2="229.60" y2="288.0" stroke="#1a1a1a" stroke-width="1.2"/>
<line x1="261.30" y1="285.8" x2="261.30" y2="288.0" stroke="#1a1a1a" stroke-width="1.2"/>
<line x1="293.00" y1="285.8" x2="293.00" y2="288.0" stroke="#1a1a1a" stroke-width="1.2"/>
<line x1="324.70" y1="285.8" x2="324.70" y2="288.0" stroke="#1a1a1a" stroke-width="1.2"/>
<line x1="356.40" y1="285.8" x2="356.40" y2="288.0" stroke="#1a1a1a" stroke-width="1.2"/>
<line x1="213.75" y1="285.8" x2="213.75" y2="287.40000000000003" stroke="#1a1a1a" stroke-width="1.2"/>
<line x1="245.45" y1="285.8" x2="245.45" y2="287.40000000000003" stroke="#1a1a1a" stroke-width="1.2"/>
<line x1="277.15" y1="285.8" x2="277.15" y2="287.40000000000003" stroke="#1a1a1a" stroke-width="1.2"/>
<line x1="308.85" y1="285.8" x2="308.85" y2="287.40000000000003" stroke="#1a1a1a" stroke-width="1.2"/>
<line x1="340.55" y1="285.8" x2="340.55" y2="287.40000000000003" stroke="#1a1a1a" stroke-width="1.2"/>
<text x="197.90" y="298.9" font-size="11.1" font-weight="bold" text-anchor="middle" fill="#000" stroke="#000" stroke-width="0.28" textLength="19.200000000000003" lengthAdjust="spacingAndGlyphs">820</text>
<text x="229.60" y="298.9" font-size="11.1" font-weight="bold" text-anchor="middle" fill="#000" stroke="#000" stroke-width="0.28" textLength="19.200000000000003" lengthAdjust="spacingAndGlyphs">810</text>
<text x="261.30" y="298.9" font-size="11.1" font-weight="bold" text-anchor="middle" fill="#000" stroke="#000" stroke-width="0.28" textLength="19.200000000000003" lengthAdjust="spacingAndGlyphs">800</text>
<text x="293.00" y="298.9" font-size="11.1" font-weight="bold" text-anchor="middle" fill="#000" stroke="#000" stroke-width="0.28" textLength="19.200000000000003" lengthAdjust="spacingAndGlyphs">790</text>
<text x="324.70" y="298.9" font-size="11.1" font-weight="bold" text-anchor="middle" fill="#000" stroke="#000" stroke-width="0.28" textLength="19.200000000000003" lengthAdjust="spacingAndGlyphs">780</text>
<text x="356.40" y="298.9" font-size="11.1" font-weight="bold" text-anchor="middle" fill="#000" stroke="#000" stroke-width="0.28" textLength="19.200000000000003" lengthAdjust="spacingAndGlyphs">770</text>
<text x="282" y="310.8" font-size="11.6" font-weight="bold" text-anchor="middle" fill="#000" stroke="#000" stroke-width="0.28" textLength="109.5" lengthAdjust="spacingAndGlyphs">Binding energy (eV)</text>
<text x="186.0" y="171.9" font-size="15.0" font-weight="bold" text-anchor="start" fill="#000" stroke="#000" stroke-width="0.28">d</text>
<text x="192.1" y="221.1" font-size="11" font-weight="bold" text-anchor="middle" fill="#000" stroke="#000" stroke-width="0.28" textLength="81" lengthAdjust="spacingAndGlyphs" transform="rotate(-90 192.1 221.1)">Intensity (a.u.)</text>
<text x="209" y="214.6" font-size="10" font-weight="bold" text-anchor="start" fill="#000" stroke="#000" stroke-width="0.28" textLength="24.4" lengthAdjust="spacingAndGlyphs">CoCo</text>
<text x="211.4" y="234.3" font-size="10" font-weight="bold" text-anchor="start" fill="#000" stroke="#000" stroke-width="0.28" textLength="22.5" lengthAdjust="spacingAndGlyphs">FeCo</text>
<text x="206.7" y="251.4" font-size="10" font-weight="bold" text-anchor="start" fill="#000" stroke="#000" stroke-width="0.28" textLength="39" lengthAdjust="spacingAndGlyphs">FeCoMo</text>
<text x="286" y="181" font-size="10.8" font-weight="bold" text-anchor="start" fill="#000" stroke="#000" stroke-width="0.28" textLength="32.5" lengthAdjust="spacingAndGlyphs">0.64 eV</text>
<text x="327.3" y="181" font-size="10.8" font-weight="bold" text-anchor="start" fill="#000" stroke="#000" stroke-width="0.28" textLength="26.7" lengthAdjust="spacingAndGlyphs">Co 2p</text></svg></body></html>
